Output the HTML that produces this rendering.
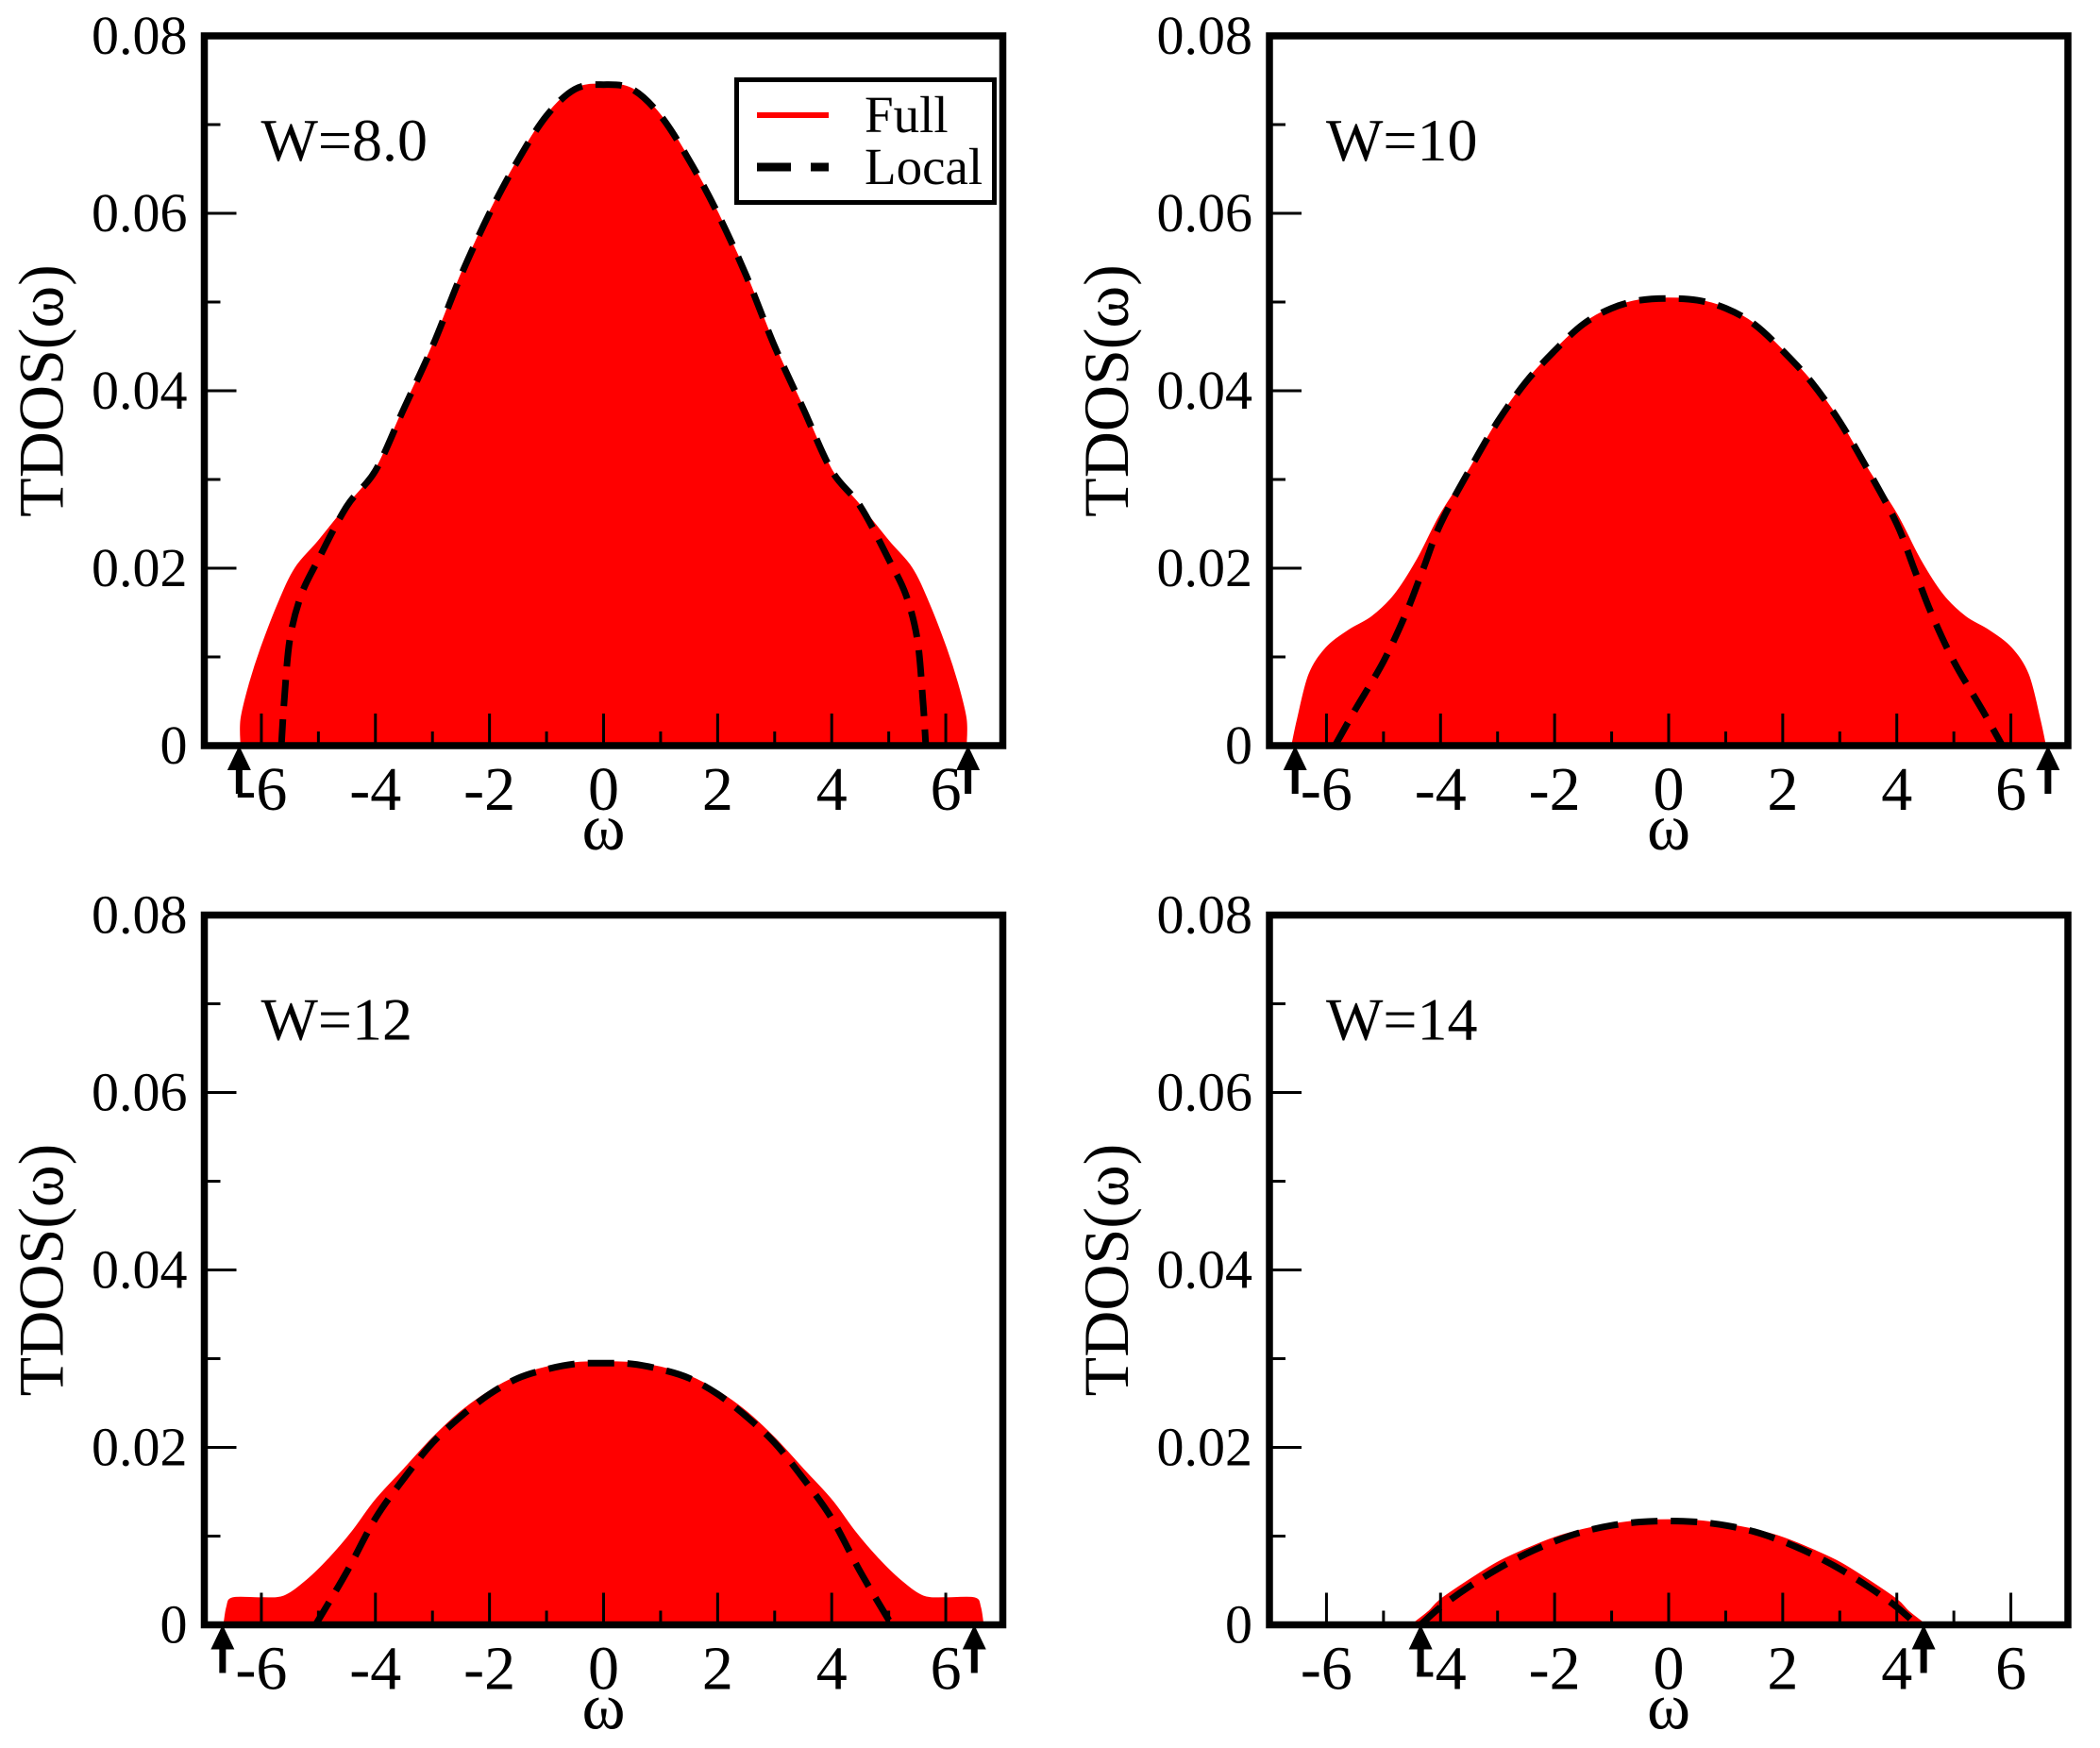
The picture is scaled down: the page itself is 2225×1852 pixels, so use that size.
<!DOCTYPE html>
<html><head><meta charset="utf-8">
<style>
html,body{margin:0;padding:0;background:#fff;}
svg{display:block;}
text{font-family:"Liberation Serif",serif;fill:#000;}
</style></head>
<body>
<svg id="s" width="2225" height="1852" xmlns="http://www.w3.org/2000/svg"></svg>
<script>
var s=document.getElementById('s');
var out='';
var panels=[
 {L:216.5,T:38,B:790,lab:'W=8.0',
  full:[[-6.35,0],[-6.35,3],[-6.2,7],[-6,11],[-5.7,16],[-5.4,20],[-5,23],[-4.5,27],[-4,31],[-3.5,38],[-3,45],[-2.5,53],[-2,60],[-1.5,66],[-1,71],[-0.5,74],[0,74.5]],
  loc:[[-5.65,0],[-5.6,5],[-5.5,12],[-5.3,17],[-5,21],[-4.5,27],[-4,31],[-3.5,38],[-3,45],[-2.5,53],[-2,60],[-1.5,66],[-1,71],[-0.5,74],[0,74.5]],
  arr:[-6.39,6.39],legend:true},
 {L:1345,T:38,B:790,lab:'W=10',
  full:[[-6.6,0],[-6.5,3],[-6.3,8],[-6,11],[-5.6,13],[-5.2,14.5],[-4.8,17],[-4.4,21],[-4,26],[-3.5,31],[-3,36.5],[-2.5,41],[-2,44.5],[-1.5,47.5],[-1,49.3],[-0.5,50.2],[0,50.4]],
  loc:[[-5.85,0],[-5.5,4],[-5,9.5],[-4.6,15],[-4.3,20],[-4,25],[-3.5,31],[-3,36.5],[-2.5,41],[-2,44.5],[-1.5,47.5],[-1,49.3],[-0.5,50.2],[0,50.4]],
  arr:[-6.55,6.65]},
 {L:216.5,T:969.5,B:1721.5,lab:'W=12',
  full:[[-6.65,0],[-6.6,2],[-6.5,3],[-6,3],[-5.6,3.2],[-5.2,5],[-4.8,7.5],[-4.4,10.5],[-4,14],[-3.5,17.5],[-3,21],[-2.5,24],[-2,26.3],[-1.5,28],[-1,29],[-0.5,29.5],[0,29.6]],
  loc:[[-5.05,0],[-4.5,6],[-4,12],[-3.5,16.5],[-3,20.5],[-2.5,23.5],[-2,26],[-1.5,27.8],[-1,28.8],[-0.5,29.4],[0,29.5]],
  arr:[-6.68,6.5]},
 {L:1345,T:969.5,B:1721.5,lab:'W=14',
  full:[[-4.5,0],[-4.2,1.5],[-4,2.8],[-3.5,5],[-3,7],[-2.5,8.5],[-2,9.8],[-1.5,10.7],[-1,11.3],[-0.5,11.7],[0,11.8]],
  loc:[[-4.35,0],[-4,2],[-3.5,4.3],[-3,6.3],[-2.5,8],[-2,9.4],[-1.5,10.5],[-1,11.2],[-0.5,11.6],[0,11.7]],
  arr:[-4.35,4.47]}
];
var W=846;
function sym(a){var r=a.slice();for(var i=a.length-2;i>=0;i--)r.push([-a[i][0],a[i][1]]);return r;}
function smooth(P){ // catmull-rom to cubic bezier path segments
 var d='';
 for(var i=0;i<P.length-1;i++){
  var p0=P[i>0?i-1:i],p1=P[i],p2=P[i+1],p3=P[i+2<P.length?i+2:i+1];
  var c1=[p1[0]+(p2[0]-p0[0])/6,p1[1]+(p2[1]-p0[1])/6];
  var c2=[p2[0]-(p3[0]-p1[0])/6,p2[1]-(p3[1]-p1[1])/6];
  d+=' C'+c1[0].toFixed(1)+','+c1[1].toFixed(1)+' '+c2[0].toFixed(1)+','+c2[1].toFixed(1)+' '+p2[0].toFixed(1)+','+p2[1].toFixed(1);
 }
 return d;
}
panels.forEach(function(p){
 var H=p.B-p.T;
 function X(x){return p.L+(x+7)*W/14;}
 function Y(v){return p.B-v/80*H;}
 var f=sym(p.full).map(function(q){return [X(q[0]),Y(q[1])];}),l=sym(p.loc).map(function(q){return [X(q[0]),Y(q[1])];});
 var d='M'+f[0][0].toFixed(1)+','+p.B+' L'+f[0][0].toFixed(1)+','+f[0][1].toFixed(1)+smooth(f)+' L'+f[f.length-1][0].toFixed(1)+','+p.B+' Z';
 out+='<path d="'+d+'" fill="#f00" stroke="#f00" stroke-width="2" stroke-linejoin="round"/>';
 var dl='M'+l[0][0].toFixed(1)+','+l[0][1].toFixed(1)+smooth(l);
 out+='<path d="'+dl+'" fill="none" stroke="#000" stroke-width="7" stroke-dasharray="28,14"/>';
 for(var k=-7;k<=7;k++){var x=X(k);out+='<line x1="'+x+'" y1="'+p.B+'" x2="'+x+'" y2="'+(p.B-(k%2==0?34:15))+'" stroke="#000" stroke-width="3"/>';}
 for(var j=1;j<8;j++){var y=p.B-j*H/8;out+='<line x1="'+p.L+'" y1="'+y+'" x2="'+(p.L+(j%2==0?34:17))+'" y2="'+y+'" stroke="#000" stroke-width="3"/>';}
 out+='<rect x="'+p.L+'" y="'+p.T+'" width="'+W+'" height="'+H+'" fill="none" stroke="#000" stroke-width="7.5"/>';
 ['-6','-4','-2','0','2','4','6'].forEach(function(t){out+='<text x="'+X(+t)+'" y="'+(p.B+68)+'" font-size="66" text-anchor="middle">'+t+'</text>';});
 ['0','0.02','0.04','0.06','0.08'].forEach(function(t,i){out+='<text x="'+(p.L-18)+'" y="'+(p.B-i*H/4+19)+'" font-size="58" text-anchor="end">'+t+'</text>';});
 p.arr.forEach(function(a){var x=X(a);out+='<rect x="'+(x-3.5)+'" y="'+(p.B+15)+'" width="7" height="36" fill="#000"/><polygon points="'+x+','+p.B+' '+(x-12.5)+','+(p.B+26)+' '+(x+12.5)+','+(p.B+26)+'" fill="#000"/>';});
 out+='<text x="'+(p.L+W/2)+'" y="'+(p.B+110)+'" font-size="70" text-anchor="middle">ω</text>';
 var cy=p.T+H/2;
 out+='<text transform="translate('+(p.L-150)+','+cy+') rotate(-90)" x="0" y="0" font-size="68" text-anchor="middle">TDOS(ω)</text>';
 out+='<text x="'+(p.L+60)+'" y="'+(p.T+132)+'" font-size="64">'+p.lab+'</text>';
 if(p.legend){
  out+='<rect x="780.5" y="84.5" width="273" height="130" fill="#fff" stroke="#000" stroke-width="5"/>';
  out+='<line x1="802" y1="122" x2="878" y2="122" stroke="#f00" stroke-width="6"/>';
  out+='<line x1="802" y1="177" x2="878" y2="177" stroke="#000" stroke-width="9" stroke-dasharray="36,21"/>';
  out+='<text x="916" y="140" font-size="55">Full</text><text x="916" y="195" font-size="55">Local</text>';
 }
});
s.innerHTML=out;
</script>
</body></html>
